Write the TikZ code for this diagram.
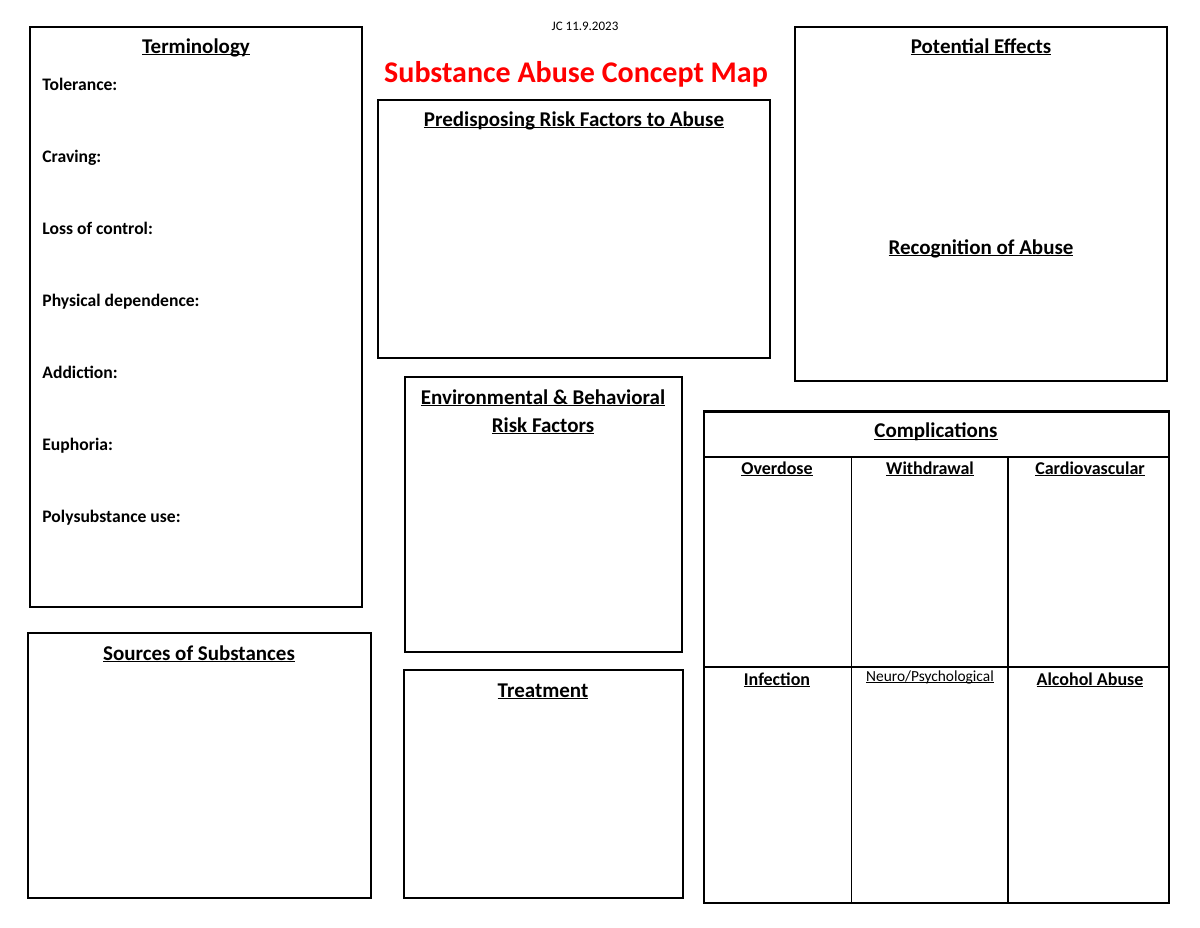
\documentclass[tikz,border=0pt]{standalone}
\usepackage{fontspec}
\setmainfont{Carlito}
\newcommand\ulx[1]{\leavevmode\setbox0\hbox{#1}\rlap{\rule[-1.1pt]{\wd0}{0.55pt}}\box0}
\definecolor{titlered}{RGB}{255,0,0}
\tikzset{
  box/.style={draw=black, line width=1pt},
  tblout/.style={draw=black, line width=1.3pt},
  tblin/.style={draw=black, line width=0.6pt},
  head/.style={anchor=base, inner sep=0pt, font=\fontsize{10.5}{12}\selectfont\bfseries},
  colhead/.style={anchor=base, inner sep=0pt, font=\fontsize{9}{11}\selectfont\bfseries},
  term/.style={anchor=base west, inner sep=0pt, font=\fontsize{8.8}{10}\selectfont\bfseries},
}
\begin{document}
\begin{tikzpicture}[x=0.5pt, y=-0.5pt]
\useasboundingbox (0,0) rectangle (1200,927);
% boxes
\draw[box] (30,27) rectangle (362,607);
\draw[box] (28,633) rectangle (371,898);
\draw[box] (378,100) rectangle (770,358);
\draw[box] (405,377) rectangle (682,652);
\draw[box] (404,670) rectangle (683,898);
\draw[box] (795,27) rectangle (1167,381);
% complications table
\draw[tblin] (704,457) -- (1169,457);
\draw[tblin] (704,667) -- (1169,667);
\draw[tblin] (851.5,457) -- (851.5,903);
\draw[tblin] (1008,457) -- (1008,903);
\draw[tblout] (704,411.5) rectangle (1169,903);
% header texts
\node[anchor=base, inner sep=0pt, font=\fontsize{6.5}{8}\selectfont] (date) at (585,30) {JC 11.9.2023};
\node[anchor=base, inner sep=0pt, font=\fontsize{15}{18}\selectfont\bfseries, text=titlered] (title) at (576,82) {Substance Abuse Concept Map};
\node[head] (terminology) at (196,53) {\ulx{Terminology}};
\node[term] (t1) at (42,90) {Tolerance:};
\node[term] (t2) at (42,162) {Craving:};
\node[term] (t3) at (42,234) {Loss of control:};
\node[term] (t4) at (42,306) {Physical dependence:};
\node[term] (t5) at (42,378) {Addiction:};
\node[term] (t6) at (42,450) {Euphoria:};
\node[term] (t7) at (42,522) {Polysubstance use:};
\node[head] (sources) at (199,660) {\ulx{Sources of Substances}};
\node[head] (predis) at (574,126) {\ulx{Predisposing Risk Factors to Abuse}};
\node[head] (env1) at (543,404) {\ulx{Environmental \& Behavioral}};
\node[head] (env2) at (543,432) {\ulx{Risk Factors}};
\node[head] (treat) at (543,697) {\ulx{Treatment}};
\node[head] (potential) at (981,53) {\ulx{Potential Effects}};
\node[head] (recog) at (981,254) {\ulx{Recognition of Abuse}};
\node[head] (compl) at (936,437.5) {\ulx{Complications}};
\node[colhead] (overdose) at (777,474) {\ulx{Overdose}};
\node[colhead] (withdrawal) at (930,474) {\ulx{Withdrawal}};
\node[colhead] (cardio) at (1090,474) {\ulx{Cardiovascular}};
\node[colhead] (infection) at (777,685) {\ulx{Infection}};
\node[anchor=base, inner sep=0pt, font=\fontsize{7.7}{9}\selectfont] (neuro) at (930,681) {\ulx{Neuro/Psychological}};
\node[colhead] (alcohol) at (1090,685) {\ulx{Alcohol Abuse}};
\end{tikzpicture}
\end{document}
